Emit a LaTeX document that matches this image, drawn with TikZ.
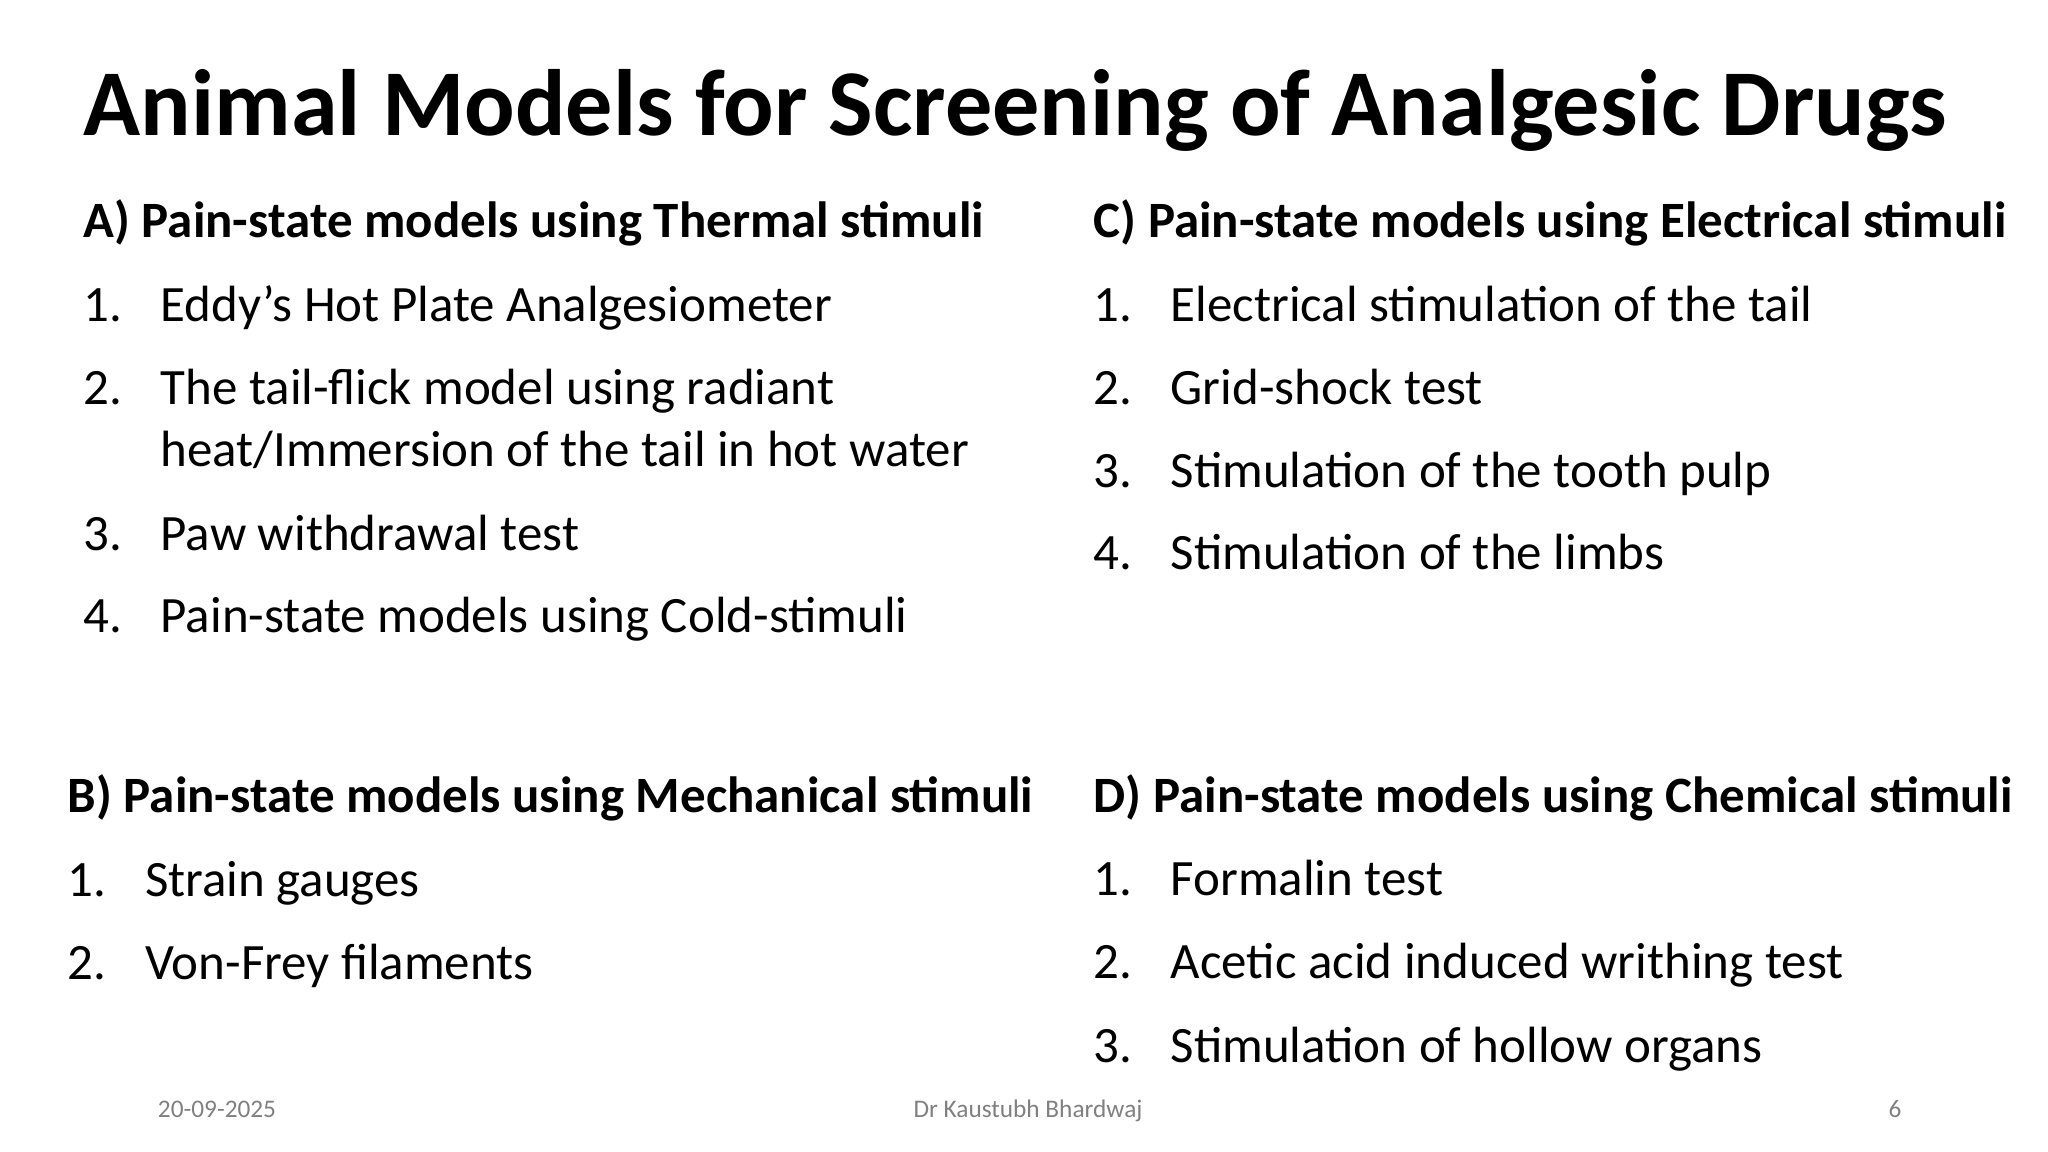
\documentclass[tikz,border=0pt]{standalone}
\usepackage{fontspec}
\setmainfont{Carlito}
\usetikzlibrary{positioning}
\tikzset{
  txt/.style={anchor=base west, inner sep=0pt, font=\fontsize{14.5}{17}\selectfont},
  head/.style={txt, font=\fontsize{14.5}{17}\selectfont\bfseries},
  foot/.style={anchor=base, inner sep=0pt, text=gray, font=\fontsize{7.2}{9}\selectfont}
}
\begin{document}
\begin{tikzpicture}[yshift=0.04cm]
\useasboundingbox (0,0.04) rectangle (20.48,-11.48);

% Titel
\node[anchor=base west, inner sep=0pt, font=\fontsize{26.8}{32}\selectfont\bfseries] (title) at (0.83,-1.313) {Animal Models for Screening of Analgesic Drugs};

% A) Thermal
\node[head] (headA) at (0.827,-2.337) {A) Pain-state models using Thermal stimuli};
\foreach \n/\y/\t in {1/3.177/{Eddy’s Hot Plate Analgesiometer},
                      2/4.005/{The tail-flick model using radiant},
                      3/5.462/{Paw withdrawal test},
                      4/6.289/{Pain-state models using Cold-stimuli}}{
  \node[txt] (numA\n) at (0.827,-\y) {\n.};
  \node[txt] (itemA\n) at (1.60,-\y) {\t};
}
\node[txt] (itemA2b) at (1.60,-4.622) {heat/Immersion of the tail in hot water};

% C) Electrical
\node[head] (headC) at (10.93,-2.337) {C) Pain-state models using Electrical stimuli};
\foreach \n/\y/\t in {1/3.177/{Electrical stimulation of the tail},
                      2/4.005/{Grid-shock test},
                      3/4.832/{Stimulation of the tooth pulp},
                      4/5.659/{Stimulation of the limbs}}{
  \node[txt] (numC\n) at (10.93,-\y) {\n.};
  \node[txt] (itemC\n) at (11.70,-\y) {\t};
}

% B) Mechanical
\node[head] (headB) at (0.67,-8.088) {B) Pain-state models using Mechanical stimuli};
\foreach \n/\y/\t in {1/8.928/{Strain gauges},
                      2/9.755/{Von-Frey filaments}}{
  \node[txt] (numB\n) at (0.67,-\y) {\n.};
  \node[txt] (itemB\n) at (1.444,-\y) {\t};
}

% D) Chemical
\node[head] (headD) at (10.93,-8.088) {D) Pain-state models using Chemical stimuli};
\foreach \n/\y/\t in {1/8.915/{Formalin test},
                      2/9.742/{Acetic acid induced writhing test},
                      3/10.583/{Stimulation of hollow organs}}{
  \node[txt] (numD\n) at (10.93,-\y) {\n.};
  \node[txt] (itemD\n) at (11.70,-\y) {\t};
}

% Fusszeile
\node[foot] (date) at (2.17,-11.134) {20-09-2025};
\node[foot] (author) at (10.28,-11.134) {Dr Kaustubh Bhardwaj};
\node[foot] (page) at (18.95,-11.134) {6};
\end{tikzpicture}
\end{document}
